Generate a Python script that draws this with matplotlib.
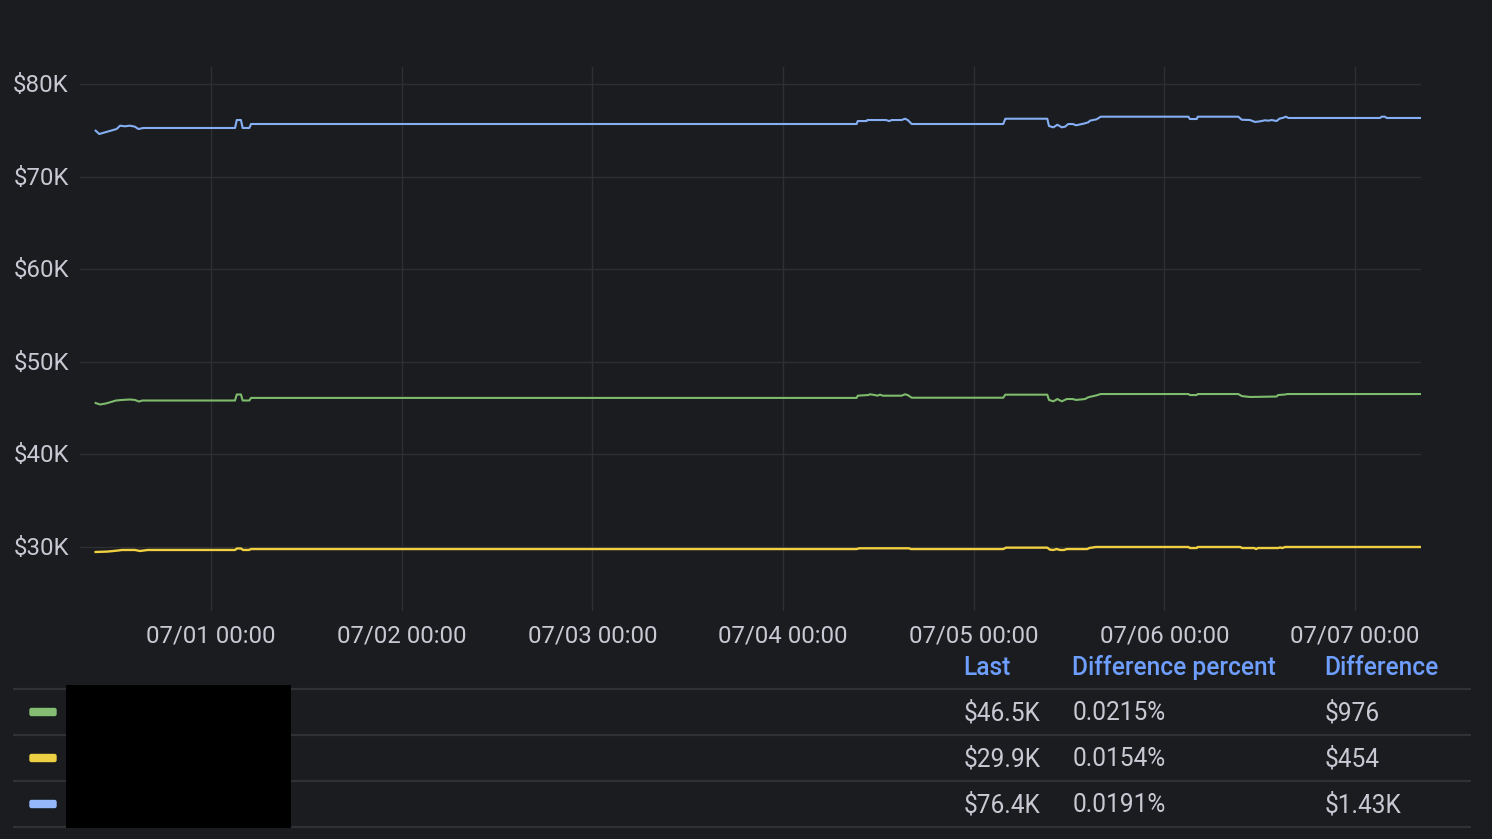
import numpy as np
import matplotlib
matplotlib.use("Agg")
import matplotlib.pyplot as plt
from matplotlib.patches import FancyBboxPatch, Rectangle
from matplotlib.transforms import ScaledTranslation

# times are days since 07/01 00:00, values are $K
blue_t = [-0.605, -0.586, -0.495, -0.477, -0.451, -0.425, -0.399, -0.381, -0.355, 0.126, 0.135, 0.157, 0.166, 0.201, 0.210,
          3.386, 3.392, 3.439, 3.442, 3.540, 3.557, 3.570, 3.622, 3.640, 3.654, 3.675, 4.155, 4.166, 4.386, 4.395, 4.418,
          4.439, 4.462, 4.479, 4.496, 4.519, 4.537, 4.575, 4.601, 4.610, 4.645, 4.666, 5.126, 5.134, 5.170, 5.175, 5.388,
          5.406, 5.449, 5.476, 5.502, 5.528, 5.545, 5.563, 5.589, 5.603, 5.624, 5.638, 5.650, 6.131, 6.140, 6.157, 6.166, 6.341]
blue_v = [74.96, 74.60, 75.14, 75.50, 75.43, 75.50, 75.39, 75.14, 75.25, 75.25, 76.11, 76.11, 75.25, 75.25, 75.68,
          75.68, 76.00, 76.00, 76.11, 76.11, 76.00, 76.11, 76.11, 76.25, 76.11, 75.68, 75.68, 76.25, 76.25, 75.46, 75.32,
          75.60, 75.32, 75.39, 75.68, 75.68, 75.54, 75.71, 75.86, 76.04, 76.19, 76.47, 76.47, 76.22, 76.22, 76.47, 76.47,
          76.14, 76.11, 75.90, 75.97, 76.08, 76.04, 76.11, 76.00, 76.25, 76.36, 76.47, 76.33, 76.33, 76.47, 76.47, 76.33, 76.33]

green_t = [-0.605, -0.582, -0.551, -0.498, -0.467, -0.425, -0.399, -0.378, -0.360, 0.126, 0.135, 0.157, 0.166, 0.201, 0.210,
           3.386, 3.392, 3.447, 3.456, 3.482, 3.494, 3.509, 3.523, 3.622, 3.640, 3.654, 3.675, 4.155, 4.166, 4.386, 4.395,
           4.418, 4.439, 4.462, 4.488, 4.519, 4.537, 4.584, 4.601, 4.645, 4.666, 5.126, 5.134, 5.170, 5.175, 5.388, 5.406,
           5.449, 5.589, 5.596, 5.634, 5.645, 6.341]
green_v = [45.55, 45.39, 45.50, 45.82, 45.88, 45.93, 45.88, 45.71, 45.82, 45.82, 46.47, 46.47, 45.82, 45.82, 46.10,
           46.10, 46.34, 46.41, 46.49, 46.41, 46.34, 46.45, 46.34, 46.34, 46.49, 46.41, 46.12, 46.12, 46.45, 46.45, 45.88,
           45.73, 45.98, 45.73, 45.98, 45.98, 45.88, 45.98, 46.17, 46.38, 46.52, 46.52, 46.41, 46.41, 46.52, 46.52, 46.30,
           46.20, 46.25, 46.41, 46.47, 46.52, 46.52]

yellow_t = [-0.605, -0.540, -0.488, -0.467, -0.399, -0.373, -0.331, 0.126, 0.136, 0.157, 0.168, 0.199, 0.210,
            3.386, 3.400, 3.661, 3.670, 4.155, 4.170, 4.386, 4.400, 4.418, 4.435, 4.453, 4.474, 4.488, 4.596, 4.606, 4.641,
            5.126, 5.134, 5.170, 5.175, 5.398, 5.408, 5.471, 5.481, 5.492, 5.597, 5.607, 5.618, 5.634, 6.341]
yellow_v = [29.46, 29.51, 29.62, 29.68, 29.68, 29.57, 29.68, 29.68, 29.84, 29.84, 29.68, 29.68, 29.78,
            29.78, 29.86, 29.86, 29.78, 29.78, 29.93, 29.93, 29.71, 29.68, 29.78, 29.68, 29.68, 29.78, 29.78, 29.89, 30.00,
            30.00, 29.89, 29.89, 30.00, 30.00, 29.89, 29.89, 29.78, 29.89, 29.89, 29.95, 29.89, 30.00, 30.00]

y_ticks = [30, 40, 50, 60, 70, 80]
x_ticks = [0, 1, 2, 3, 4, 5, 6]
x_labels = ["07/01 00:00", "07/02 00:00", "07/03 00:00", "07/04 00:00", "07/05 00:00", "07/06 00:00", "07/07 00:00"]

columns = ["Last", "Difference percent", "Difference"]
last = ["$46.5K", "$29.9K", "$76.4K"]
diff_pct = ["0.0215%", "0.0154%", "0.0191%"]
diff = ["$976", "$454", "$1.43K"]

BG = "#1a1c20"
TEXT = "#c8c9d3"
GRID = "#2d2f33"
HEAD = "#6e9fff"
GREEN = "#85bd72"
YELLOW = "#eccf42"
BLUE = "#94b8f9"

plt.rcParams["font.family"] = ["Roboto", "DejaVu Sans"]
W, H = 1492, 839
fig = plt.figure(figsize=(W / 100, H / 100), dpi=100, facecolor=BG)

ax = fig.add_axes([80 / W, 1 - 611 / H, (1421 - 80) / W, (611 - 67) / H], facecolor=BG)
ax.set_xlim((80 - 211) / 190.67, (1421 - 211) / 190.67)
ax.set_ylim(80 - (611 - 84) / 9.26, 80 + (84 - 67) / 9.26)
ax.plot(green_t, green_v, color="#7fbb6c", lw=1.5)
ax.plot(yellow_t, yellow_v, color="#f0d040", lw=1.7)
ax.plot(blue_t, blue_v, color="#86aff3", lw=1.5)
for s in ax.spines.values():
    s.set_visible(False)
ax.set_xticks(x_ticks)
ax.set_xticklabels(x_labels)
ax.set_yticks(y_ticks)
ax.set_yticklabels(["$%dK" % v for v in y_ticks])
ax.tick_params(length=0, labelsize=17.3, labelcolor=TEXT)
ax.tick_params(axis="x", pad=10)
ax.tick_params(axis="y", pad=8)
# y labels sit one pixel higher than centred
for lab in ax.get_yticklabels():
    lab.set_transform(lab.get_transform() + ScaledTranslation(0, 1 / 100, fig.dpi_scale_trans))
ax.grid(color=GRID, lw=1)
ax.set_axisbelow(True)

# table below the plot, in pixel coordinates
tb = fig.add_axes([0, 0, 1, 1], facecolor="none")
tb.set_xlim(0, W)
tb.set_ylim(H, 0)
tb.axis("off")
col_x = [964, 1073, 1325]
for x, name in zip(col_x, columns):
    tb.text(x - 0.5, 668, name, color=HEAD, fontsize=17.65, fontweight="medium", va="center")
for y in [689, 735, 781, 827]:
    tb.plot([13, 1471], [y, y], color="#2f3135", lw=1.6, solid_capstyle="butt")
for i, c in enumerate([GREEN, YELLOW, BLUE]):
    y = 712 + 46 * i
    tb.add_patch(FancyBboxPatch((30, y - 3.5), 26, 7, boxstyle="round,pad=0,rounding_size=1.5", fc=c, ec=c, lw=1))
    tb.text(col_x[0], y + 1, last[i], color=TEXT, fontsize=17.65, va="center")
    tb.text(col_x[1], y + 1, diff_pct[i], color=TEXT, fontsize=17.65, va="center")
    tb.text(col_x[2], y + 1, diff[i], color=TEXT, fontsize=17.65, va="center")
tb.add_patch(Rectangle((66, 685), 225, 143, fc="black", ec="none", zorder=5))

fig.savefig("out.png", dpi=100, facecolor=BG)
